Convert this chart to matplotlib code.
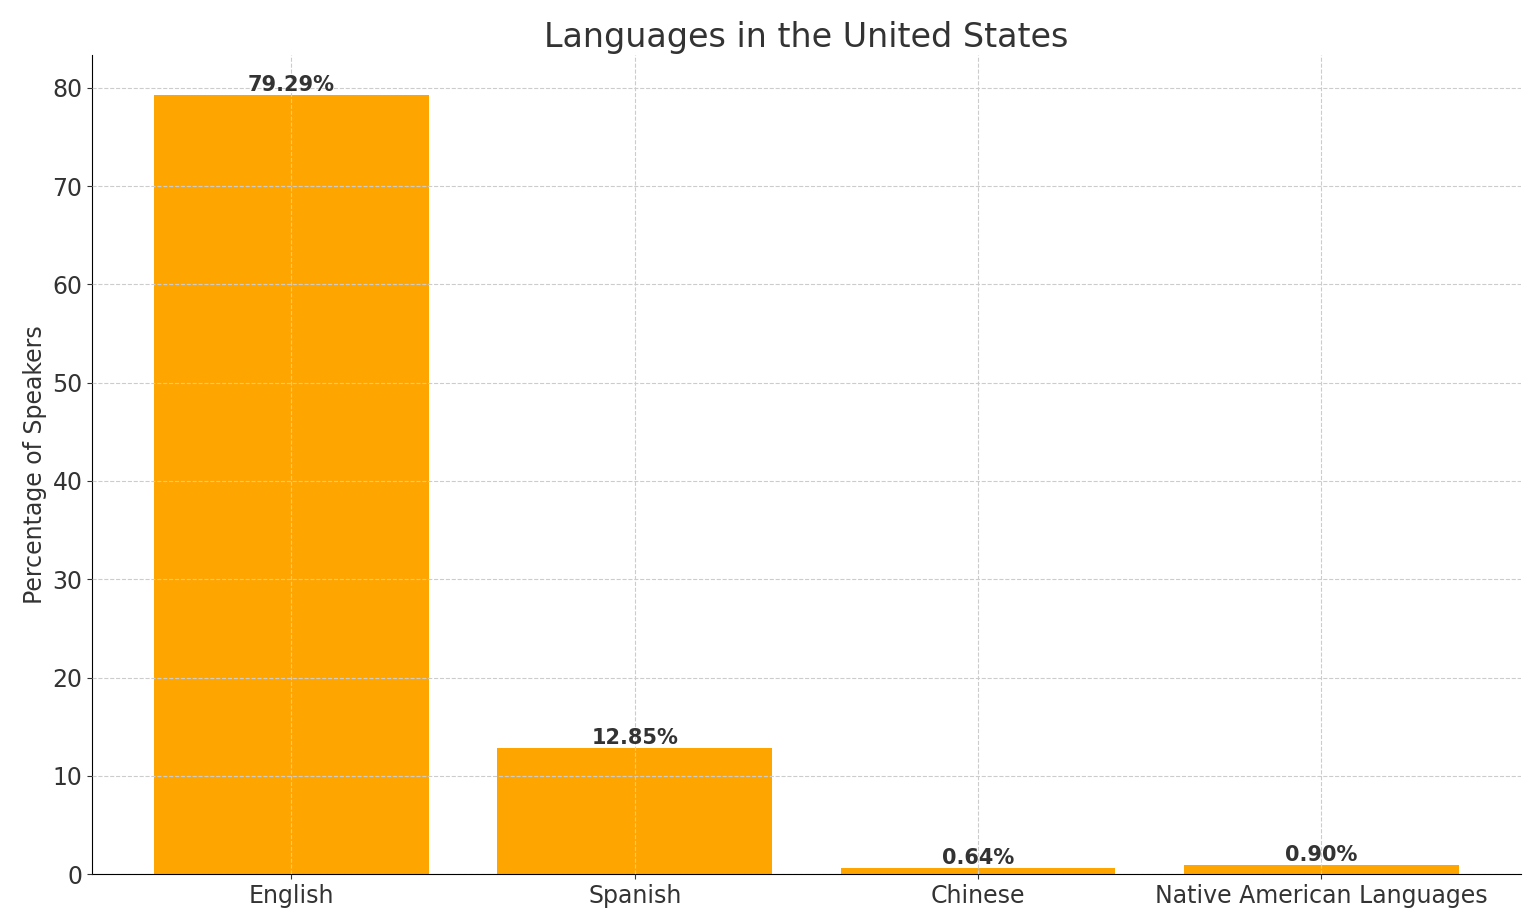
import matplotlib
matplotlib.use("Agg")
import matplotlib.pyplot as plt

languages = ["English", "Spanish", "Chinese", "Native American Languages"]
percentages = [79.29, 12.85, 0.64, 0.90]

fig, ax = plt.subplots(figsize=(15.36, 9.23), dpi=100)
bars = ax.bar(languages, percentages, color="orange", width=0.8)

for b, v in zip(bars, percentages):
    ax.text(b.get_x() + b.get_width() / 2, v, f"{v:.2f}%", ha="center", va="bottom",
            fontsize=15, fontweight="bold", color="#333333")

ax.set_title("Languages in the United States", fontsize=24, color="#333333")
ax.set_ylabel("Percentage of Speakers", fontsize=17, color="#333333")
ax.tick_params(labelsize=17, colors="#333333")
ax.grid(True, linestyle="--", color="#cccccc")
ax.set_axisbelow(False)
ax.set_ylim(0, 83.3)
ax.set_xlim(-0.58, 3.58)
for s in ["top", "right"]:
    ax.spines[s].set_visible(False)

plt.subplots_adjust(left=0.06, right=0.99, top=0.94, bottom=0.053)
fig.savefig("out.png")
